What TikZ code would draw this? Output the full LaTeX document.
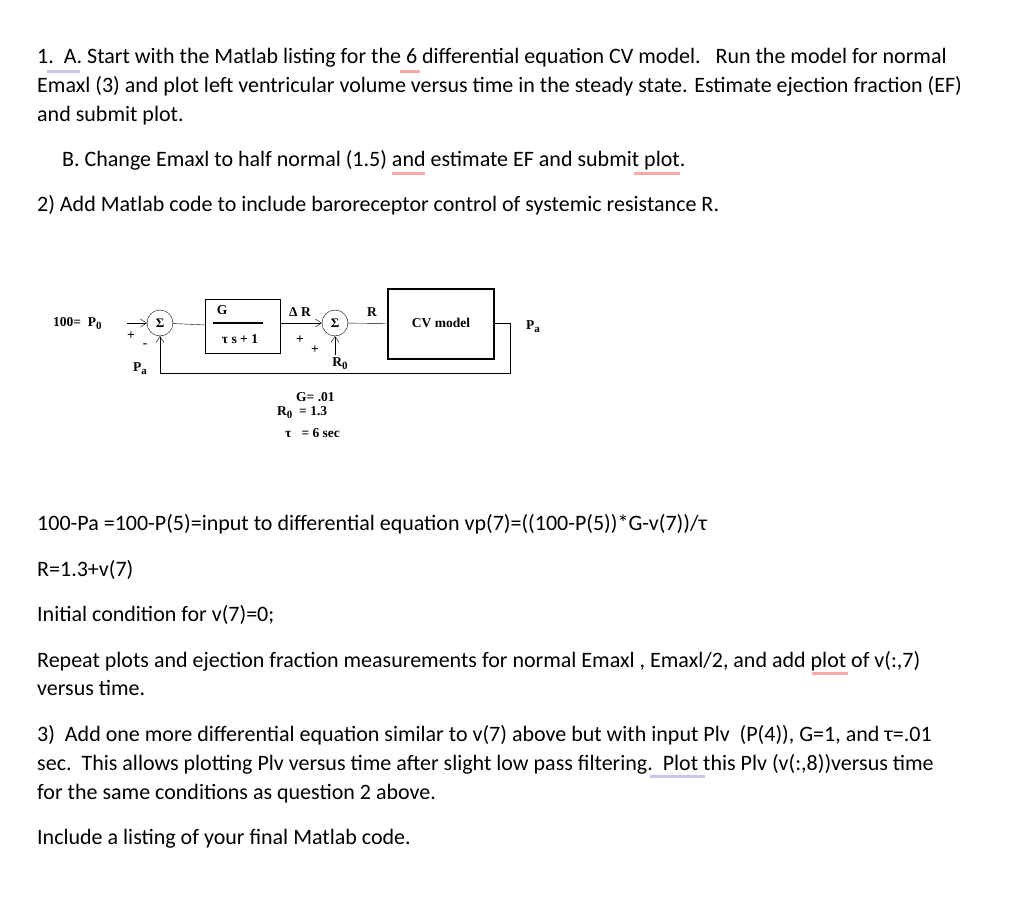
\documentclass[tikz,border=0pt]{standalone}
\usepackage{fontspec}
\setmainfont{Carlito}
\newfontfamily\dfont{Liberation Serif}
\newcommand{\dsub}[1]{\raisebox{-3pt}{\fontsize{11}{11}\selectfont #1}}
\usetikzlibrary{arrows.meta}
\begin{document}
\begin{tikzpicture}[x=1pt,y=-1pt,
  tl/.style={anchor=base west,inner sep=0pt,font=\fontsize{22}{24}\selectfont},
  dl/.style={inner sep=0pt,font=\dfont\bfseries\fontsize{13.5}{15}\selectfont},
  sumn/.style={circle,draw,minimum size=26pt,inner sep=0pt,font=\dfont\bfseries\fontsize{13}{15}\selectfont},
  arr/.style={-{Straight Barb[length=6pt,width=8pt]}},
  hlg/.style={fill=gray!50!blue!30},
  hlp/.style={fill=red!35}]
\useasboundingbox (0,0) rectangle (1018,904);
\fill[white] (0,0) rectangle (1018,904);
% text
\node[tl] (t1) at (37,64) {1.\ \ A. Start with the Matlab listing for the 6 differential equation CV model.\ \ \ Run the model for normal};
\node[tl] (t2) at (37,93) {Emaxl (3) and plot left ventricular volume versus time in the steady state. Estimate ejection fraction (EF)};
\node[tl] (t3) at (37,122) {and submit plot.};
\node[tl] (t4) at (62,167) {B. Change Emaxl to half normal (1.5) and estimate EF and submit plot.};
\node[tl] (t5) at (37,212) {2) Add Matlab code to include baroreceptor control of systemic resistance R.};
\node[tl] (t6) at (37,530) {100-Pa =100-P(5)=input to differential equation vp(7)=((100-P(5))*G-v(7))/τ};
\node[tl] (t7) at (37,576) {R=1.3+v(7)};
\node[tl] (t8) at (37,621) {Initial condition for v(7)=0;};
\node[tl] (t9) at (37,667) {Repeat plots and ejection fraction measurements for normal Emaxl , Emaxl/2, and add plot of v(:,7)};
\node[tl] (t10) at (37,695) {versus time.};
\node[tl] (t11) at (37,741) {3)\ \ Add one more differential equation similar to v(7) above but with input Plv\ \ (P(4)), G=1, and τ=.01};
\node[tl] (t12) at (37,770) {sec.\ \ This allows plotting Plv versus time after slight low pass filtering.\ \ Plot this Plv (v(:,8))versus time};
\node[tl] (t13) at (37,799) {for the same conditions as question 2 above.};
\node[tl] (t14) at (37,844) {Include a listing of your final Matlab code.};
% highlight bars
\fill[hlg] (47,70) rectangle (80,73);
\fill[hlp] (400,70) rectangle (420,73);
\fill[hlp] (392,172) rectangle (425,175);
\fill[hlp] (634,172) rectangle (680,175);
\fill[hlp] (812,672) rectangle (848,675);
\fill[hlg] (650,775) rectangle (705,778);
% diagram
\node[dl,anchor=west] (p0) at (53,324) {100=\ \ P\dsub{0}};
\node[sumn] (s1) at (160,323) {Σ};
\coordinate (in1) at (127,323);
\draw[arr] (in1) -- (s1);
\node[dl] (pl1) at (131,336) {+};
\node[dl] (mi1) at (145,346) {-};
\node[dl] (pa1) at (140,369) {P\dsub{a}};
\node[draw,line width=1pt,minimum width=75pt,minimum height=53pt] (g) at (242.5,326.5) {};
\node[dl] (gn) at (222,310) {G};
\draw[line width=1.3pt] (213,323) -- (263,323);
\node[dl] (gd) at (240,339) {τ s + 1};
\draw (s1) -- (g);
\node[dl] (dr) at (300,312) {Δ R};
\node[sumn] (s2) at (335,323) {Σ};
\draw[arr] (g.east |- s2) -- (s2);
\node[dl] (pl2) at (300,340) {+};
\node[dl] (pl3) at (315,350) {+};
\node[dl] (r0) at (340,364) {R\dsub{0}};
\coordinate (r0top) at (335,355);
\draw[arr] (r0top) -- (s2.south);
\node[dl] (r) at (372,312) {R};
\node[draw,line width=2.5pt,minimum width=106pt,minimum height=70pt] (cv) at (441,324) {};
\node[dl] (cvt) at (441,323) {CV model};
\draw (s2) -- (cv);
\coordinate (fb1) at (510,323);
\coordinate (fb2) at (510,373);
\coordinate (fb3) at (160,373);
\draw (cv.east |- fb1) -- (fb1) -- (fb2) -- (fb3);
\draw[arr] (fb3) -- (s1.south);
\node[dl] (pa2) at (533,327) {P\dsub{a}};
\node[dl,anchor=west] (c1) at (296,397) {G= .01};
\node[dl,anchor=west] (c2) at (277,413) {R\dsub{0}\ \ = 1.3};
\node[dl,anchor=west] (c3) at (285,433) {τ\ \ \ = 6 sec};
\end{tikzpicture}
\end{document}
